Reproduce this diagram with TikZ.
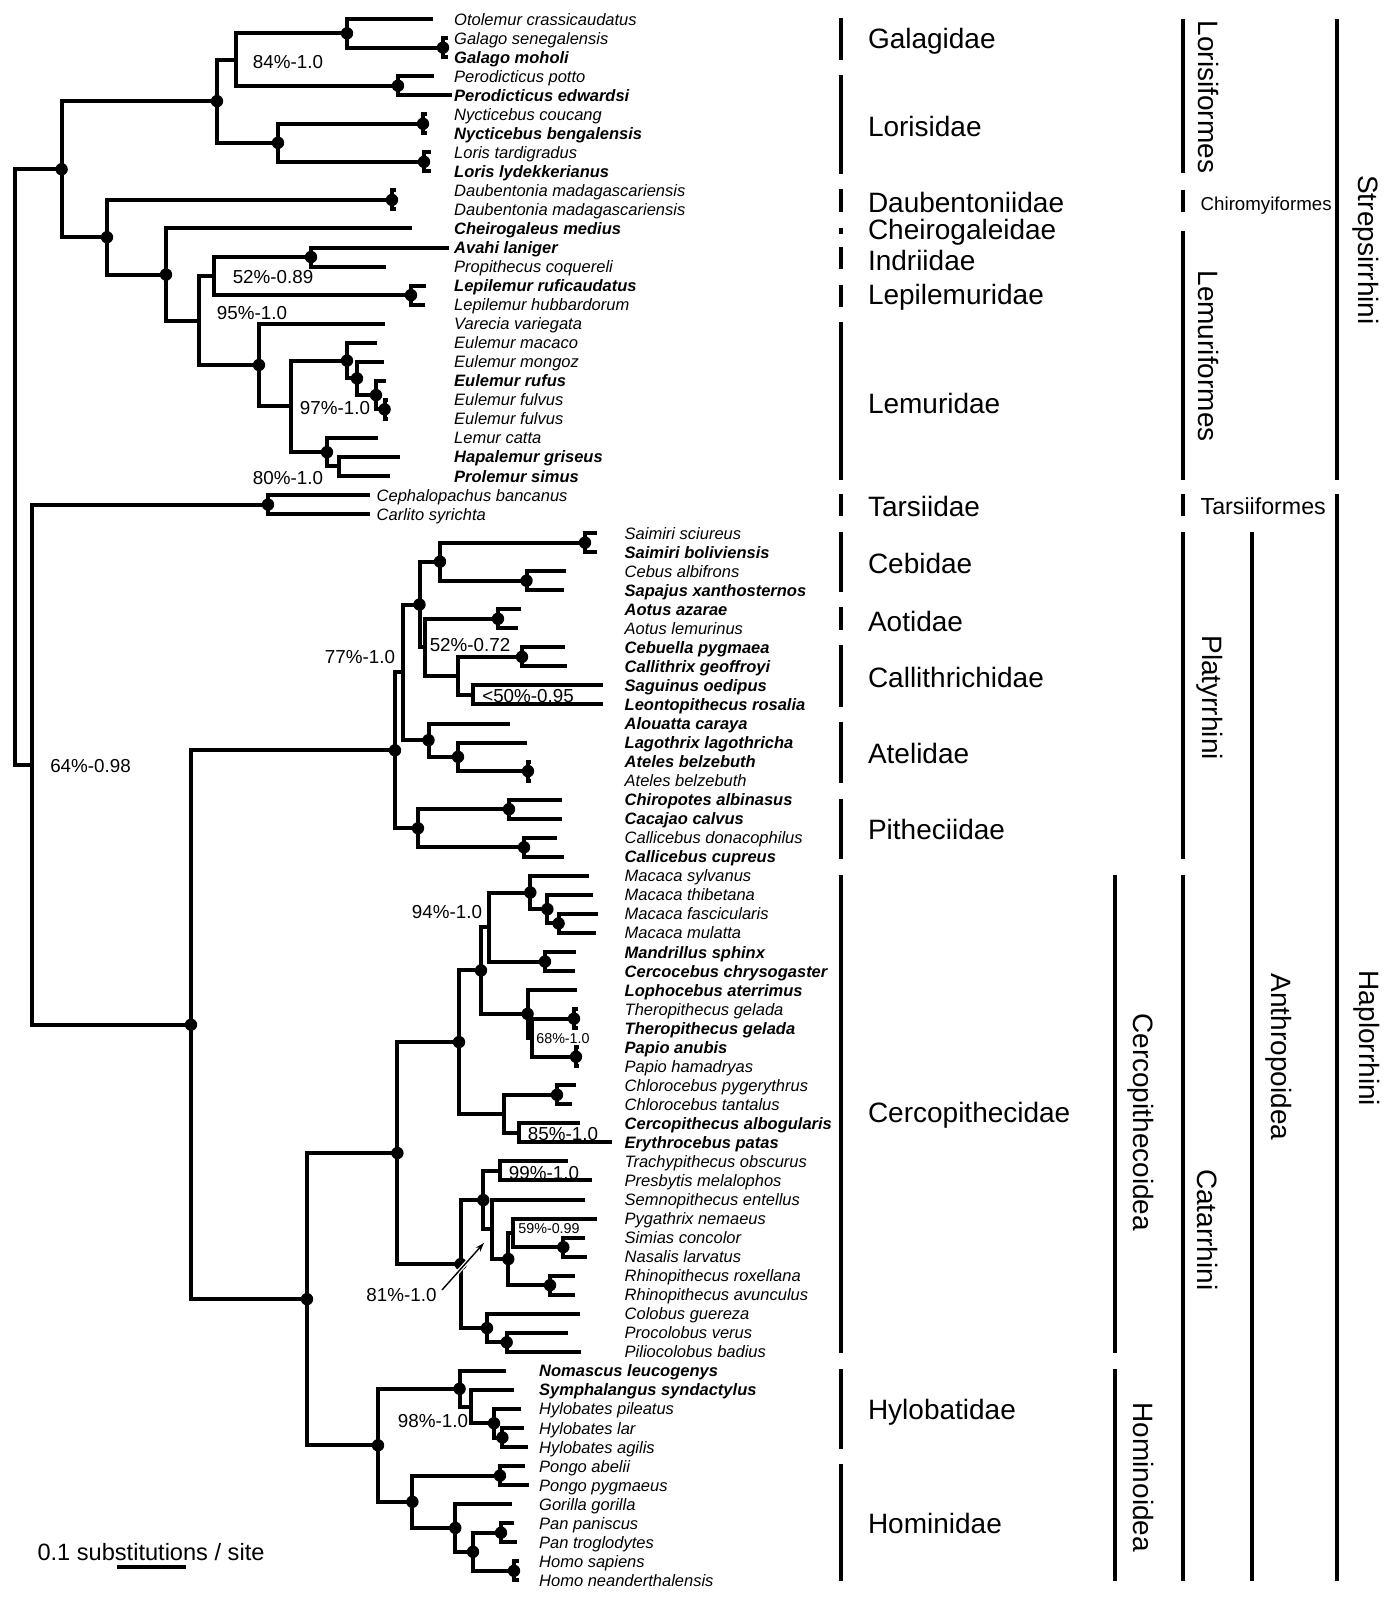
\documentclass[tikz,border=0pt]{standalone}
\usepackage{fontspec}
\newfontfamily\arialfont{Liberation Sans}
\usetikzlibrary{arrows.meta}

\begin{document}
\begin{tikzpicture}[x=1pt,y=-19.04pt,
    branch/.style={line width=4pt,line join=miter},
    bar/.style={line width=4pt},
    sp/.style={anchor=west,inner sep=0pt,text height=12pt,text depth=0pt,font=\arialfont\itshape\fontsize{16.5}{18}\selectfont},
    spb/.style={sp,font=\arialfont\bfseries\itshape\fontsize{16.5}{18}\selectfont},
    famlab/.style={anchor=west,inner sep=0pt,text height=20pt,text depth=0pt,font=\arialfont\fontsize{28}{30}\selectfont},
    ranklab/.style={famlab,anchor=center,rotate=-90},
    support/.style={inner sep=0pt,text height=13.5pt,text depth=0pt,font=\arialfont\fontsize{18.8}{20}\selectfont},
    supsmall/.style={support,text height=10.3pt,font=\arialfont\fontsize{14.3}{16}\selectfont}]
        \useasboundingbox (0,0) rectangle (1394,84.034);

        % taxa
        \foreach \rw/\nm/\tx/\lab/\sty in {1/oto/433/Otolemur crassicaudatus/sp, 2/gsen/448/Galago senegalensis/sp,
            3/gmoh/448/Galago moholi/spb, 4/ppot/434/Perodicticus potto/sp, 5/pedw/452/Perodicticus edwardsi/spb,
            6/ncou/427/Nycticebus coucang/sp, 7/nben/427/Nycticebus bengalensis/spb, 8/ltar/431/Loris tardigradus/sp,
            9/llyd/431/Loris lydekkerianus/spb, 10/dmad/396/Daubentonia madagascariensis/sp,
            11/dmadb/396/Daubentonia madagascariensis/sp, 12/cmed/412/Cheirogaleus medius/spb,
            13/alan/449/Avahi laniger/spb, 14/pcoq/386/Propithecus coquereli/sp, 15/lruf/426/Lepilemur ruficaudatus/spb,
            16/lhub/425/Lepilemur hubbardorum/sp, 17/vvar/385/Varecia variegata/sp, 18/emac/377/Eulemur macaco/sp,
            19/emon/384/Eulemur mongoz/sp, 20/eruf/386/Eulemur rufus/spb, 21/eful/388/Eulemur fulvus/sp,
            22/efulb/388/Eulemur fulvus/sp, 23/lcat/378/Lemur catta/sp, 24/hgri/400/Hapalemur griseus/spb,
            25/psim/390/Prolemur simus/spb}{
            \coordinate (\nm) at (\tx,\rw);
            \node[\sty] (\nm-t) at (454,\rw) {\lab};
        }
        \foreach \rw/\nm/\tx/\lab/\sty in {26/cban/370/Cephalopachus bancanus/sp, 27/csyr/370/Carlito syrichta/sp}{
            \coordinate (\nm) at (\tx,\rw);
            \node[\sty] (\nm-t) at (376.5,\rw) {\lab};
        }
        \foreach \rw/\nm/\tx/\lab/\sty in {28/ssci/597/Saimiri sciureus/sp, 29/sbol/597/Saimiri boliviensis/spb,
            30/calb/566/Cebus albifrons/sp, 31/sxan/564/Sapajus xanthosternos/spb, 32/aaza/521/Aotus azarae/spb,
            33/alem/518/Aotus lemurinus/sp, 34/cpyg/565/Cebuella pygmaea/spb, 35/cgeo/567/Callithrix geoffroyi/spb,
            36/soed/603/Saguinus oedipus/spb, 37/lros/603/Leontopithecus rosalia/spb, 38/acar/510/Alouatta caraya/spb,
            39/llag/527/Lagothrix lagothricha/spb, 40/abel/531/Ateles belzebuth/spb, 41/abelb/531/Ateles belzebuth/sp,
            42/calbi/562/Chiropotes albinasus/spb, 43/ccal/562/Cacajao calvus/spb,
            44/cdon/557/Callicebus donacophilus/sp, 45/ccup/564/Callicebus cupreus/spb,
            46/msyl/589/Macaca sylvanus/sp, 47/mthi/593/Macaca thibetana/sp, 48/mfas/598/Macaca fascicularis/sp,
            49/mmul/596/Macaca mulatta/sp, 50/msph/576/Mandrillus sphinx/spb, 51/cchr/575/Cercocebus chrysogaster/spb,
            52/late/577/Lophocebus aterrimus/spb, 53/tgel/578/Theropithecus gelada/sp,
            54/tgelb/578/Theropithecus gelada/spb, 55/panu/579/Papio anubis/spb, 56/pham/579/Papio hamadryas/sp,
            57/cpyge/576/Chlorocebus pygerythrus/sp, 58/ctan/572/Chlorocebus tantalus/sp,
            59/calbo/580/Cercopithecus albogularis/spb, 60/epat/612/Erythrocebus patas/spb,
            61/tobs/568/Trachypithecus obscurus/sp, 62/pmel/592/Presbytis melalophos/sp,
            63/sent/585/Semnopithecus entellus/sp, 64/pnem/597/Pygathrix nemaeus/sp, 65/scon/585/Simias concolor/sp,
            66/nlar/587/Nasalis larvatus/sp, 67/rrox/575/Rhinopithecus roxellana/sp,
            68/ravu/575/Rhinopithecus avunculus/sp, 69/cgue/580/Colobus guereza/sp, 70/pver/568/Procolobus verus/sp,
            71/pbad/581/Piliocolobus badius/sp}{
            \coordinate (\nm) at (\tx,\rw);
            \node[\sty] (\nm-t) at (624.5,\rw) {\lab};
        }
        \foreach \rw/\nm/\tx/\lab/\sty in {72/nleu/506/Nomascus leucogenys/spb, 73/ssyn/514/Symphalangus syndactylus/spb,
            74/hpil/521/Hylobates pileatus/sp, 75/hlar/524/Hylobates lar/sp, 76/hagi/528/Hylobates agilis/sp,
            77/pabe/525/Pongo abelii/sp, 78/ppyg/529/Pongo pygmaeus/sp, 79/ggor/512/Gorilla gorilla/sp,
            80/ppan/514/Pan paniscus/sp, 81/ptro/517/Pan troglodytes/sp, 82/hsap/519/Homo sapiens/sp,
            83/hnea/519/Homo neanderthalensis/sp}{
            \coordinate (\nm) at (\tx,\rw);
            \node[\sty] (\nm-t) at (539,\rw) {\lab};
        }

        % internal nodes
        \foreach \nm/\x/\rw in {root/15/24.52, strep/61.6/8.89, lorisf/217/5.3125, galper/236/3.125, otogal/347/1.75,
            gal/443/2.5, per/398/4.5, nycl/278/7.5, nyc/423/6.5, lor/424/8.5, daulem/107/12.46, dau/392/10.5,
            lemf/166/14.42, lemx/199/16.84, indlep/214/14.5, ind/311/13.5, lep/411/15.5, lemd/259/19.17,
            lemz/291/21.34, eua/347/18.94, eub/357/19.875, euc/376/20.75, eud/384.6/21.5, lema/327/23.75,
            lemb/339/24.5, haplo/32/40.16, tars/268/26.5, anthro/191/53.82, platy/395/39.41, plb/403/35.3125,
            plc/419.5/31.75, cebd/440/29.5, sai/585/28.5, ceb/526.5/30.5, aotcal/425/34, aot/498/32.5,
            calth/458/35.5, cbc/522/34.5, sag/473/36.5, atel/428.5/38.875, atb/458/39.75, ate/528/40.5,
            pith/418/43.5, chi/509/42.5, cal/524/44.5, cat/307/68.23, cercd/397.4/60.56, cercinae/459/54.73,
            papa/481/50.97, papb/489/48.69, maca/530.3/46.875, macb/547.4/47.75, macc/558.6/48.5, man/545/50.5,
            papc/527.6/53.25, thpa/532/54.5, the/574/53.5, pap/576/55.5, cercini/503.5/58.5, chl/557/57.5,
            cer/518.5/59.5, colob/460.7/66.39, cola/483.3/63.03, tp/500/61.5, colb/491.7/64.5625,
            onm/508.3/66.125, psn/512.7/64.75, sn/563.3/65.5, rhi/550/67.5, colg/487/69.75, pp/506.7/70.5,
            homd/378/75.91, hyl/459.6/72.94, hyb/471.3/73.875, hyc/494/74.75, hyd/502.4/75.5, homn/412.4/78.875,
            pon/500/77.5, hmn/455.3/80.25, ph/473/81.5, pan/501/80.5, homo/514/82.5}
            \coordinate (\nm) at (\x,\rw);

        % branches
        \foreach \pa/\ca/\cb in {root/strep/haplo, strep/lorisf/daulem, lorisf/galper/nycl, galper/otogal/per,
            otogal/oto/gal, gal/gsen/gmoh, per/ppot/pedw, nycl/nyc/lor, nyc/ncou/nben, lor/ltar/llyd,
            daulem/dau/lemf, dau/dmad/dmadb, lemf/cmed/lemx, lemx/indlep/lemd, indlep/ind/lep, ind/alan/pcoq,
            lep/lruf/lhub, lemd/vvar/lemz, lemz/eua/lema, eua/emac/eub, eub/emon/euc, euc/eruf/eud,
            eud/eful/efulb, lema/lcat/lemb, lemb/hgri/psim, haplo/tars/anthro, tars/cban/csyr, anthro/platy/cat,
            platy/plb/pith, plb/plc/atel, plc/cebd/aotcal, cebd/sai/ceb, sai/ssci/sbol, ceb/calb/sxan,
            aotcal/aot/calth, aot/aaza/alem, calth/cbc/sag, cbc/cpyg/cgeo, sag/soed/lros, atel/acar/atb,
            atb/llag/ate, ate/abel/abelb, pith/chi/cal, chi/calbi/ccal, cal/cdon/ccup, cat/cercd/homd,
            cercd/cercinae/colob, cercinae/papa/cercini, papa/papb/papc, papb/maca/man, maca/msyl/macb,
            macb/mthi/macc, macc/mfas/mmul, man/msph/cchr, papc/late/thpa, thpa/the/pap, the/tgel/tgelb,
            pap/panu/pham, cercini/chl/cer, chl/cpyge/ctan, cer/calbo/epat, colob/cola/colg, cola/tp/colb,
            tp/tobs/pmel, colb/sent/onm, onm/psn/rhi, psn/pnem/sn, sn/scon/nlar, rhi/rrox/ravu, colg/cgue/pp,
            pp/pver/pbad, homd/hyl/homn, hyl/nleu/hyb, hyb/ssyn/hyc, hyc/hpil/hyd, hyd/hlar/hagi,
            homn/pon/hmn, pon/pabe/ppyg, hmn/ggor/ph, ph/pan/homo, pan/ppan/ptro, homo/hsap/hnea}
            \draw[branch] (\ca) -| (\pa) |- (\cb);

        \foreach \nm in {strep, lorisf, otogal, gal, per, nycl, nyc, lor, daulem, dau, lemf, ind, lep, lemd,
            eua, eub, euc, eud, lema, tars, anthro, platy, plc, cebd, sai, ceb, aot, cbc, atel, atb, ate, pith,
            chi, cal, cat, cercd, cercinae, papa, maca, macb, macc, man, papc, the, pap, chl, colob, cola, onm,
            sn, rhi, colg, pp, homd, hyl, hyc, hyd, homn, pon, hmn, ph, pan, homo}
            \fill (\nm) circle (6.2pt);

        % support values
        \node[support] (s84) at (288,3.24) {84\%-1.0};
        \node[support] (s52a) at (273,14.55) {52\%-0.89};
        \node[support] (s95) at (252,16.44) {95\%-1.0};
        \node[support] (s97) at (335,21.43) {97\%-1.0};
        \node[support] (s80) at (288,25.1) {80\%-1.0};
        \node[support] (s64) at (90.5,40.23) {64\%-0.98};
        \node[support] (s77) at (360,34.51) {77\%-1.0};
        \node[support] (s52b) at (470,33.88) {52\%-0.72};
        \node[support] (s50) at (528,36.55) {<50\%-0.95};
        \node[support] (s94) at (447,47.9) {94\%-1.0};
        \node[supsmall] (s68) at (563,54.52) {68\%-1.0};
        \node[support] (s85) at (563,59.53) {85\%-1.0};
        \node[support] (s99) at (544,61.58) {99\%-1.0};
        \node[supsmall] (s59) at (549,64.52) {59\%-0.99};
        \node[support] (s81) at (401.5,68.01) {81\%-1.0};
        \node[support] (s98) at (433,74.63) {98\%-1.0};

        \coordinate (arrs) at (442,67.75);
        \coordinate (arre) at (484,65.28);
        \draw[white,line width=4pt,shorten >=8pt] (arrs) -- (arre);
        \draw[line width=1.4pt,-{Stealth[length=9pt,width=6pt]}] (arrs) -- (arre);

        % families
        \foreach \a/\b in {0.95/3.15, 3.95/9.15, 9.95/11.12, 12.0/12.3, 12.95/14.12, 14.95/16.15, 16.93/25.19,
            25.95/27.12, 27.92/31.08, 31.9/33.1, 33.9/37.12, 37.9/41.1, 41.95/45.1, 45.98/71.04, 71.9/76.1,
            76.9/83.02}
            \draw[bar] (841,\a) -- (841,\b);
        \foreach \rw/\t [count=\i] in {2.01/Galagidae, 6.64/Lorisidae, 10.64/Daubentoniidae, 12.06/Cheirogaleidae,
            13.66/Indriidae, 15.49/Lepilemuridae, 21.17/Lemuridae, 26.58/Tarsiidae, 29.61/Cebidae, 32.62/Aotidae,
            35.59/Callithrichidae, 39.6/Atelidae, 43.57/Pitheciidae, 58.41/Cercopithecidae, 74.04/Hylobatidae,
            80.02/Hominidae}
            \node[famlab] (fam\i) at (867.8,\rw) {\t};

        % higher ranks
        \draw[bar] (1182.5,1.02) -- (1182.5,9.11);
        \draw[bar] (1182.5,9.97) -- (1182.5,11.12);
        \draw[bar] (1182.5,12.11) -- (1182.5,25.19);
        \draw[bar] (1182.5,25.95) -- (1182.5,27.12);
        \draw[bar] (1182.5,27.92) -- (1182.5,45.1);
        \draw[bar] (1182.5,45.98) -- (1182.5,83.02);
        \draw[bar] (1115.3,45.98) -- (1115.3,71.04);
        \draw[bar] (1115.3,71.9) -- (1115.3,83.02);
        \draw[bar] (1252,27.92) -- (1252,83.02);
        \draw[bar] (1337.2,1.02) -- (1337.2,25.19);
        \draw[bar] (1337.2,25.95) -- (1337.2,83.02);

        \node[ranklab] (lorisiformes) at (1208.4,5.09) {Lorisiformes};
        \node[famlab,text height=13.4pt,font=\arialfont\fontsize{18.7}{20}\selectfont] (chiromyiformes) at (1200.5,10.71) {Chiromyiformes};
        \node[ranklab] (lemuriformes) at (1208.4,18.7) {Lemuriformes};
        \node[famlab,text height=16.6pt,font=\arialfont\fontsize{23.2}{25}\selectfont] (tarsiiformes) at (1200.5,26.58) {Tarsiiformes};
        \node[ranklab] (platyrrhini) at (1212.4,36.64) {Platyrrhini};
        \node[ranklab] (catarrhini) at (1207.7,64.59) {Catarrhini};
        \node[ranklab] (cercopithecoidea) at (1143,58.94) {Cercopithecoidea};
        \node[ranklab] (hominoidea) at (1143,77.59) {Hominoidea};
        \node[ranklab] (anthropoidea) at (1281.4,55.51) {Anthropoidea};
        \node[ranklab] (strepsirrhini) at (1368.8,13.13) {Strepsirrhini};
        \node[ranklab] (haplorrhini) at (1369.6,54.54) {Haplorrhini};

        % scale
        \node[support,text height=17pt,font=\arialfont\fontsize{23.6}{25}\selectfont] (scaletext) at (151,81.51) {0.1 substitutions / site};
        \coordinate (sba) at (117,82.29);
        \coordinate (sbb) at (186.4,82.29);
        \draw[bar] (sba) -- (sbb);
\end{tikzpicture}
\end{document}
